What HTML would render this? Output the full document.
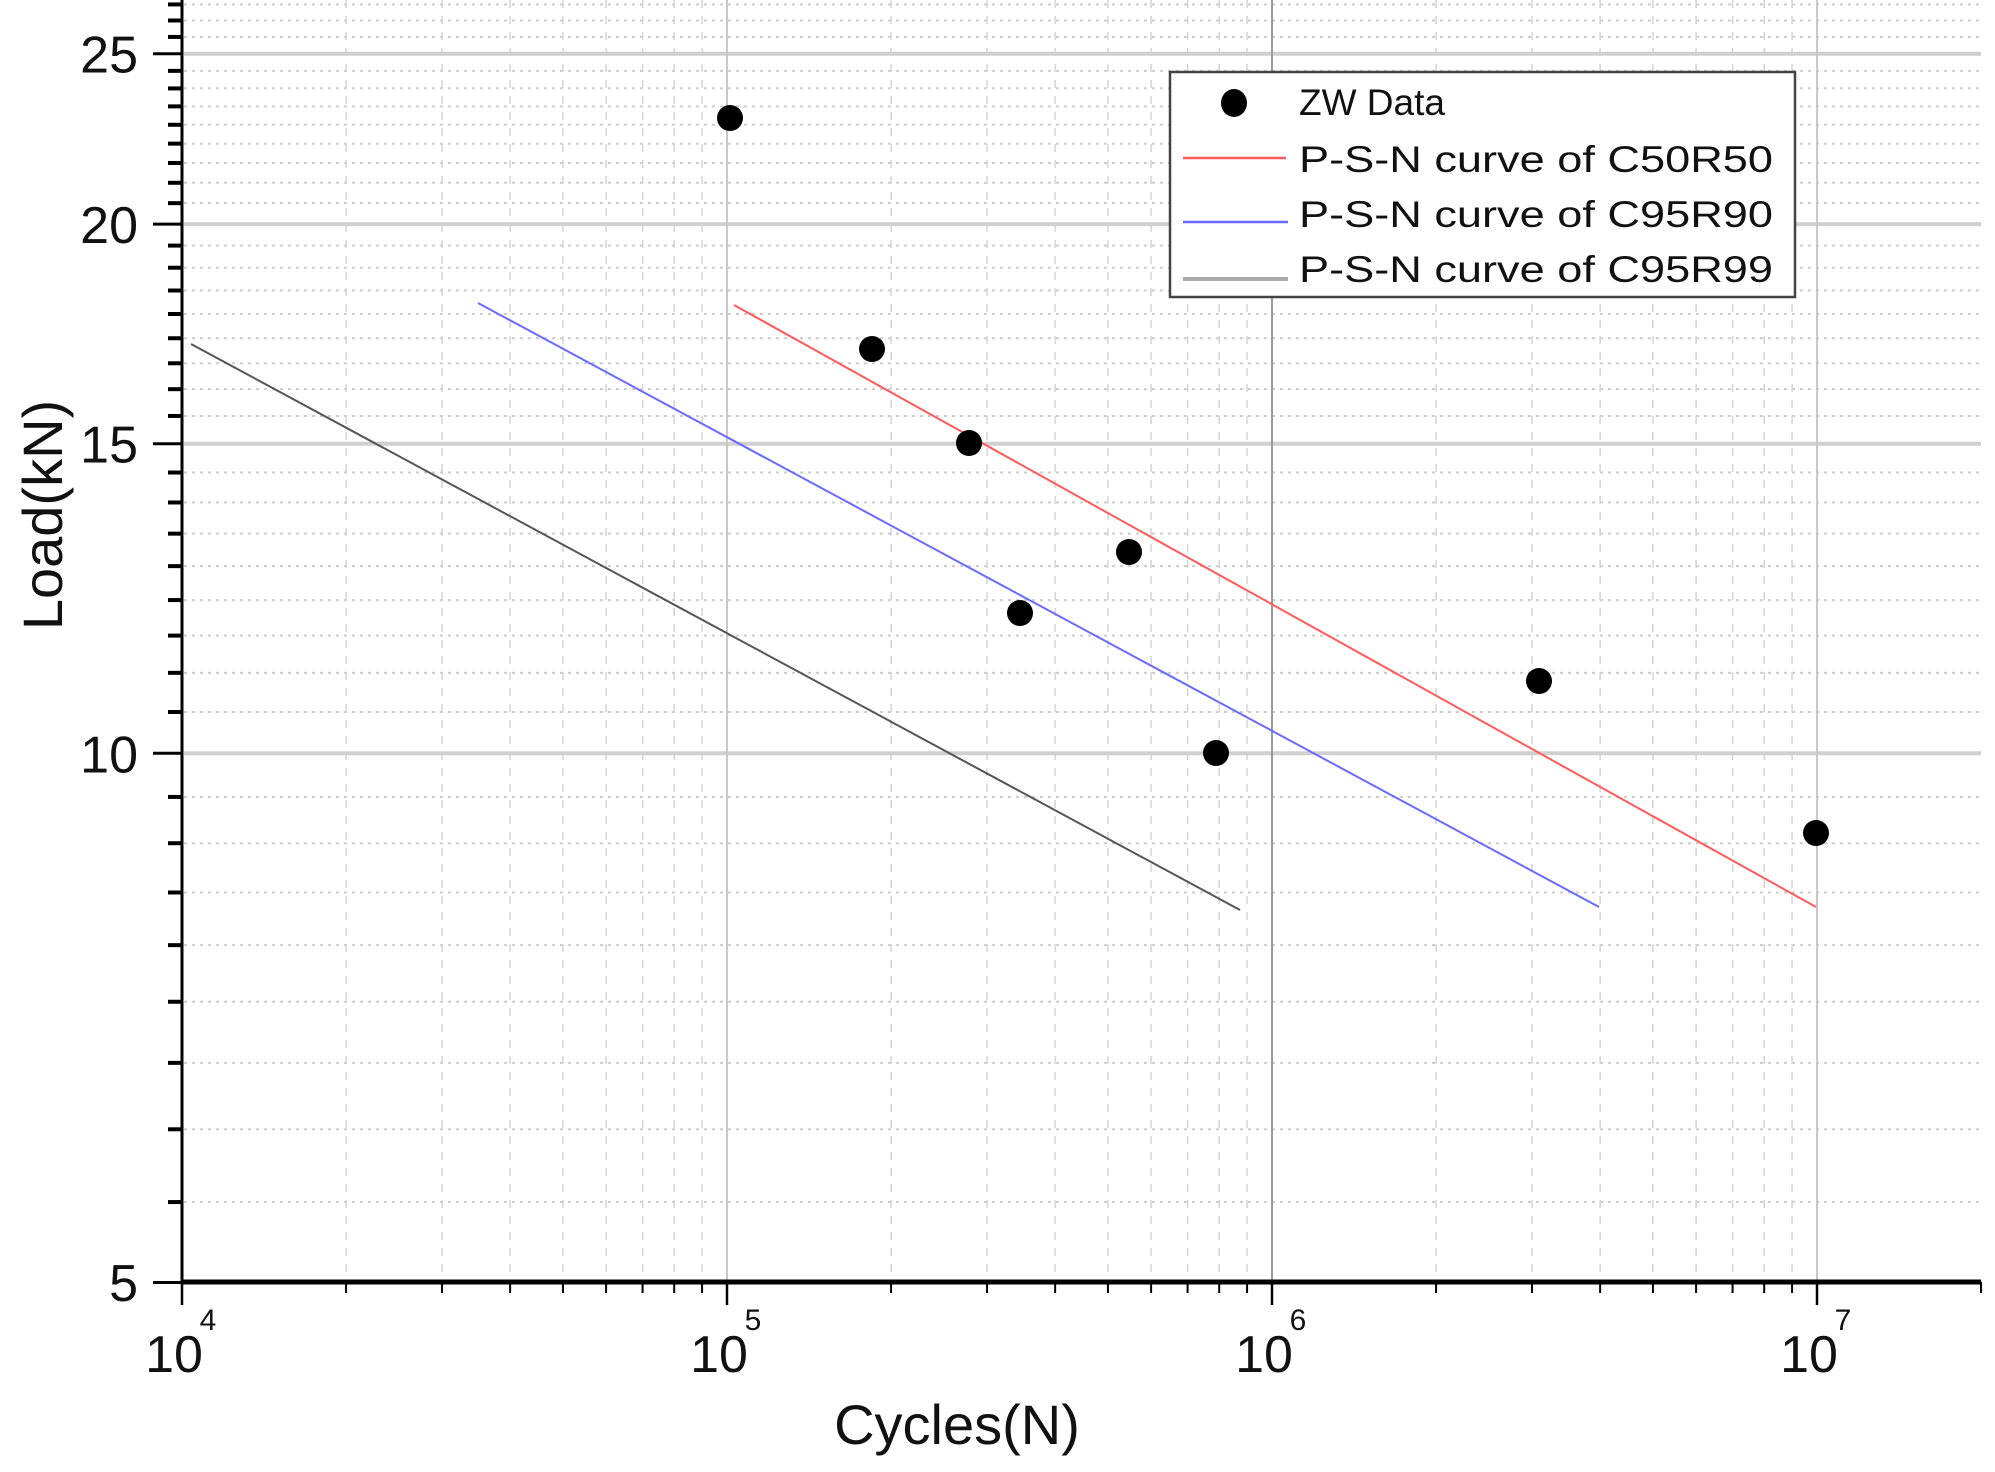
<!DOCTYPE html>
<html><head><meta charset="utf-8"><style>html,body{margin:0;padding:0;background:#fff}svg{display:block}</style></head>
<body>
<svg id="s" width="1995" height="1472" xmlns="http://www.w3.org/2000/svg" font-family="Liberation Sans, Arial, sans-serif">
<g id="grid"></g>
<line x1="191" y1="344" x2="1240" y2="910" stroke="#555" stroke-width="2"/>
<line x1="478" y1="303" x2="1599" y2="907" stroke="#6a6aff" stroke-width="2"/>
<line x1="734" y1="305" x2="1816" y2="907" stroke="#ff5a5a" stroke-width="2"/>
<g fill="#000">
<circle cx="730" cy="118" r="13"/><circle cx="872" cy="349" r="13"/><circle cx="969" cy="443" r="13"/>
<circle cx="1020" cy="613" r="13"/><circle cx="1129" cy="552" r="13"/><circle cx="1216" cy="753" r="13"/>
<circle cx="1539" cy="681" r="13"/><circle cx="1816" cy="833" r="13"/>
</g>
<g id="axes"></g>
<rect x="1170" y="72" width="625" height="225" fill="#fff" stroke="#444" stroke-width="2.5"/>
<ellipse cx="1234" cy="103" rx="13" ry="14" fill="#000"/>
<line x1="1183" y1="158" x2="1286" y2="158" stroke="#ff5a5a" stroke-width="2.5"/>
<line x1="1183" y1="222" x2="1288" y2="222" stroke="#6a6aff" stroke-width="2.5"/>
<line x1="1183" y1="279" x2="1288" y2="279" stroke="#aaa" stroke-width="4"/>
<g font-size="37" fill="#111">
<text x="1299" y="115">ZW Data</text>
<text x="1299" y="172" textLength="474" lengthAdjust="spacingAndGlyphs">P-S-N curve of C50R50</text>
<text x="1299" y="227" textLength="474" lengthAdjust="spacingAndGlyphs">P-S-N curve of C95R90</text>
<text x="1299" y="282" textLength="474" lengthAdjust="spacingAndGlyphs">P-S-N curve of C95R99</text>
</g>
<text x="957" y="1444" font-size="56" text-anchor="middle" fill="#111">Cycles(N)</text>
<text transform="translate(62,515) rotate(-90)" font-size="56" text-anchor="middle" fill="#111">Load(kN)</text>
</svg>
<script>
var NS="http://www.w3.org/2000/svg";
function X(n){return 182+545*(Math.log10(n)-4);}
function Y(v){return 1282.5-1758*(Math.log10(v)-Math.log10(5));}
var g=document.getElementById('grid'),a=document.getElementById('axes');
function L(p,x1,y1,x2,y2,st,w,d){var e=document.createElementNS(NS,'line');e.setAttribute('x1',x1);e.setAttribute('y1',y1);e.setAttribute('x2',x2);e.setAttribute('y2',y2);e.setAttribute('stroke',st);e.setAttribute('stroke-width',w);if(d)e.setAttribute('stroke-dasharray',d);p.appendChild(e);}
function T(p,x,y,s,fs,anc){var e=document.createElementNS(NS,'text');e.setAttribute('x',x);e.setAttribute('y',y);e.setAttribute('font-size',fs);e.setAttribute('fill','#111');if(anc)e.setAttribute('text-anchor',anc);e.textContent=s;p.appendChild(e);return e;}
var top=23,bot=1282,right=1981;
var minors=[];
for(var k=1;k<45;k++){if(k%9==0)continue;var v=5+k*5/9;if(Y(v)<top)break;minors.push(v);}
minors.forEach(function(v){var y=Y(v);L(g,184,y,right,y,'#ccc',2,'3,5');});
for(var d=4;d<=7;d++){for(var k=2;k<=9;k++){var n=k*Math.pow(10,d);var x=X(n);if(x>right)break;L(g,x,top,x,bot,'#d4d4d4',1.5,'8,8');}}
[10,15,20,25].forEach(function(v){L(g,184,Y(v),right,Y(v),'#d0d0d0',4);});
[1e5,1e6,1e7].forEach(function(n){L(g,X(n),top,X(n),bot,n==1e6?'#999':'#c8c8c8',2);});
L(a,182,top,182,bot+2,'#000',3);
L(a,182,bot,right,bot,'#000',5);
minors.forEach(function(v){var y=Y(v);L(a,168,y,182,y,'#000',4);});
[5,10,15,20,25].forEach(function(v){L(a,153,Y(v),182,Y(v),'#000',3);});
for(var d=4;d<=7;d++){var x=X(Math.pow(10,d));L(a,x,bot,x,1305,'#000',2.5);
 T(a,x-8,1372,'10',52,'middle');T(a,x+26,1330,String(d),30,'middle');
 for(var k=2;k<=9;k++){var xx=X(k*Math.pow(10,d));if(xx>right+1)break;L(a,xx,bot,xx,1293,'#000',2);}}
L(a,right,bot,right,1293,'#000',2);
[[5,1301],[10,Y(10)+19],[15,Y(15)+19],[20,Y(20)+19],[25,Y(25)+19]].forEach(function(p){T(a,138,p[1],String(p[0]),52,'end');});
</script>
</body></html>
